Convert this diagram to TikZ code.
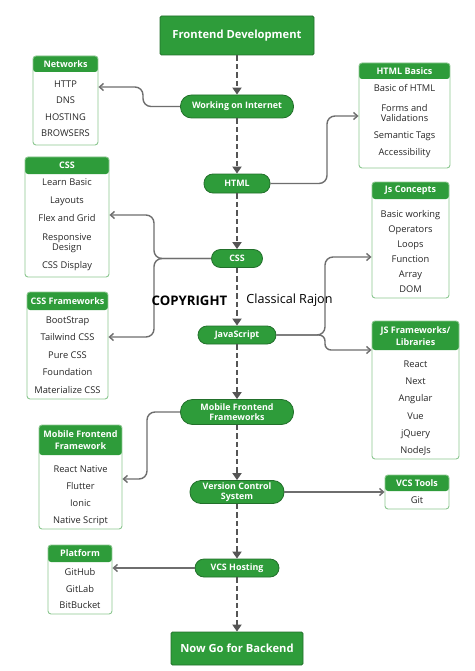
\documentclass[tikz,border=0pt]{standalone}
\usepackage{fontspec}
\setmainfont{Open Sans}
\usetikzlibrary{arrows.meta}
\definecolor{hdrgreen}{HTML}{2E9C3A}
\definecolor{pilledge}{HTML}{22702B}
\definecolor{boxline}{HTML}{8CC790}
\definecolor{spinegray}{HTML}{555555}
\definecolor{linkgray}{HTML}{6E6E6E}
\definecolor{itemtext}{HTML}{262626}
\begin{document}
\begin{tikzpicture}[x=1pt, y=-1pt,
  spine/.style={draw=spinegray, line width=2.8pt, dash pattern=on 5.5pt off 3pt, -{Triangle[length=7pt,width=9pt]}},
  link/.style={draw=linkgray, line width=1.4pt, rounded corners=8pt, -{Straight Barb[length=4pt,width=7pt]}},
  bigbox/.style={fill=hdrgreen, draw=pilledge, line width=0.8pt, text=white, font=\bfseries\fontsize{11.2}{13}\selectfont, rounded corners=1.5pt, inner sep=0pt},
  pill/.style={fill=hdrgreen, draw=pilledge, line width=0.8pt, text=white, font=\bfseries\fontsize{8.9}{9.6}\selectfont, align=center, inner sep=0pt, rounded corners=9pt},
  listbox/.style={draw=boxline, line width=0.9pt, fill=white, rounded corners=3pt, inner sep=0pt,
    path picture={\fill[hdrgreen] (path picture bounding box.north west) rectangle ([yshift=-#1]path picture bounding box.north east);}},
  hdr/.style={text=white, font=\bfseries\fontsize{9}{12}\selectfont, align=center},
  item/.style={text=itemtext, font=\fontsize{9.3}{10}\selectfont, align=center, anchor=mid, yshift=-0.8pt}
]
\fill[white] (0,0) rectangle (474,671);
\useasboundingbox (0,0) rectangle (474,671);

% Main path (green steps down the middle)
\node[bigbox, minimum width=154pt, minimum height=39pt] (fd) at (237,35.5) {Frontend Development};
\node[pill, minimum width=113pt, minimum height=23pt, rounded corners=11pt] (wi) at (237,106.5) {Working on Internet};
\node[pill, minimum width=66pt, minimum height=19pt] (html) at (237,183.5) {HTML};
\node[pill, minimum width=51pt, minimum height=18pt] (css) at (237,258.5) {CSS};
\node[pill, minimum width=78pt, minimum height=18pt] (js) at (237,335) {JavaScript};
\node[pill, minimum width=113pt, minimum height=25pt, rounded corners=12pt] (mob) at (237,412) {Mobile Frontend\\Frameworks};
\node[pill, minimum width=94pt, minimum height=23pt, rounded corners=11pt] (vcs) at (237,492) {Version Control\\System};
\node[pill, minimum width=84pt, minimum height=18pt] (host) at (237,568) {VCS Hosting};
\node[bigbox, minimum width=132pt, minimum height=33pt] (be) at (237,648.5) {Now Go for Backend};

% Dashed arrows between the steps
\draw[spine] (fd.south) -- (wi.north);
\draw[spine] (wi.south) -- (html.north);
\draw[spine] (html.south) -- (css.north);
\draw[spine] (css.south) -- (js.north);
\draw[spine] (js.south) -- (mob.north);
\draw[spine] (mob.south) -- (vcs.north);
\draw[spine] (vcs.south) -- (host.north);
\draw[spine] (host.south) -- (be.north);

% Networks
\node[listbox=16pt, minimum width=65pt, minimum height=89pt] (net) at (65.5,100.5) {};
\node[hdr] (net-h) at (65.5,64) {Networks};
\node[item] (net-1) at (65.5,84) {HTTP};
\node[item] (net-2) at (65.5,100) {DNS};
\node[item] (net-3) at (65.5,117) {HOSTING};
\node[item] (net-4) at (65.5,133) {BROWSERS};

% HTML Basics
\node[listbox=16pt, minimum width=91pt, minimum height=105pt] (hb) at (404.5,115.5) {};
\node[hdr] (hb-h) at (404.5,71) {HTML Basics};
\node[item] (hb-1) at (404.5,88) {Basic of HTML};
\node[item, anchor=center, yshift=0pt] (hb-2) at (404.5,112) {Forms and\\Validations};
\node[item] (hb-3) at (404.5,135) {Semantic Tags};
\node[item] (hb-4) at (404.5,152) {Accessibility};

% CSS
\node[listbox=17pt, minimum width=84pt, minimum height=120pt] (cb) at (67,217) {};
\node[hdr] (cb-h) at (67,165.5) {CSS};
\node[item] (cb-1) at (67,182) {Learn Basic};
\node[item] (cb-2) at (67,200) {Layouts};
\node[item] (cb-3) at (67,218) {Flex and Grid};
\node[item, anchor=center, yshift=0pt] (cb-4) at (67,242) {Responsive\\Design};
\node[item] (cb-5) at (67,265) {CSS Display};

% CSS Frameworks
\node[listbox=18pt, minimum width=81pt, minimum height=107pt] (cf) at (67.5,345.5) {};
\node[hdr] (cf-h) at (67.5,301) {CSS Frameworks};
\node[item] (cf-1) at (67.5,320) {BootStrap};
\node[item] (cf-2) at (67.5,337) {Tailwind CSS};
\node[item] (cf-3) at (67.5,355) {Pure CSS};
\node[item] (cf-4) at (67.5,372) {Foundation};
\node[item] (cf-5) at (67.5,390) {Materialize CSS};

% Js Concepts
\node[listbox=17pt, minimum width=77pt, minimum height=116pt] (jc) at (410.5,240) {};
\node[hdr] (jc-h) at (410.5,190.5) {Js Concepts};
\node[item] (jc-1) at (410.5,214) {Basic working};
\node[item] (jc-2) at (410.5,229) {Operators};
\node[item] (jc-3) at (410.5,244) {Loops};
\node[item] (jc-4) at (410.5,259) {Function};
\node[item] (jc-5) at (410.5,274) {Array};
\node[item] (jc-6) at (410.5,289) {DOM};

% JS Frameworks / Libraries
\node[listbox=29pt, minimum width=87pt, minimum height=138pt] (jf) at (415.5,390) {};
\node[hdr] (jf-h) at (415.5,336) {JS Frameworks/\\Libraries};
\node[item] (jf-1) at (415.5,364) {React};
\node[item] (jf-2) at (415.5,381) {Next};
\node[item] (jf-3) at (415.5,398) {Angular};
\node[item] (jf-4) at (415.5,416) {Vue};
\node[item] (jf-5) at (415.5,433) {jQuery};
\node[item] (jf-6) at (415.5,450) {NodeJs};

% Mobile Frontend Framework
\node[listbox=30pt, minimum width=83pt, minimum height=104pt] (mf) at (80.5,477) {};
\node[hdr] (mf-h) at (80.5,440) {Mobile Frontend\\Framework};
\node[item] (mf-1) at (80.5,469) {React Native};
\node[item] (mf-2) at (80.5,486) {Flutter};
\node[item] (mf-3) at (80.5,503) {Ionic};
\node[item] (mf-4) at (80.5,520) {Native Script};

% VCS Tools
\node[listbox=16pt, minimum width=64pt, minimum height=34pt] (vt) at (417,492) {};
\node[hdr] (vt-h) at (417,483) {VCS Tools};
\node[item] (vt-1) at (417,500) {Git};

% Platform
\node[listbox=17pt, minimum width=64pt, minimum height=69pt] (pf) at (80,579.5) {};
\node[hdr] (pf-h) at (80,553.5) {Platform};
\node[item] (pf-1) at (80,572) {GitHub};
\node[item] (pf-2) at (80,589) {GitLab};
\node[item] (pf-3) at (80,605) {BitBucket};

% Side connectors
\draw[link] (wi.west) -- (143,106.5) -- (143,87) -- (net.east |- 0,87);
\draw[link] (html.east) -- (327,183.5) -- (327,116) -- (hb.west |- 0,116);
\draw[link] (css.west) -- (154,258.5) -- (154,215) -- (cb.east |- 0,215);
\draw[link] (css.west) -- (154,258.5) -- (154,337) -- (cf.east |- 0,337);
\draw[link] (js.east) -- (325,335) -- (325,257) -- (jc.west |- 0,257);
\draw[link, rounded corners=6pt] (js.east) -- (325,335) -- (325,350) -- (jf.west |- 0,350);
\draw[link] (mob.west) -- (147,412) -- (147,479) -- (mf.east |- 0,479);
\draw[link] (vcs.east) -- (vt.west |- vcs.east);
\draw[link] (host.west) -- (pf.east |- host.west);

% Copyright text
\node[font=\bfseries\fontsize{13.2}{15}\selectfont] (cr) at (189.5,300.5) {COPYRIGHT};
\node[font=\fontsize{12.6}{15}\selectfont] (cn) at (289.5,300.5) {Classical Rajon};

\end{tikzpicture}
\end{document}
